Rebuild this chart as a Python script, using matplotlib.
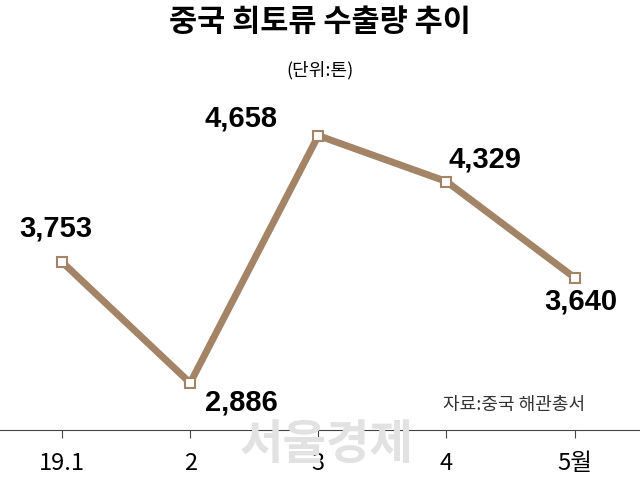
import matplotlib
matplotlib.use("Agg")
import matplotlib.pyplot as plt

categories = ["19.1", "2", "3", "4", "5월"]
values = [3753, 2886, 4658, 4329, 3640]
labels = ["3,753", "2,886", "4,658", "4,329", "3,640"]

plt.rcParams['font.family'] = ['Noto Sans CJK KR', 'DejaVu Sans']
fig = plt.figure(figsize=(6.4, 4.96), dpi=100)
fig.text(0.51, 1 - 445/496, "서울경제", fontsize=34, fontweight='bold', ha='center', va='center', color='#e2e2e2')
ax = fig.add_axes([0, 1 - 430/496, 1, (430 - 100)/496])
ax.patch.set_alpha(0)
x = list(range(len(values)))
col = '#a38466'
ax.plot(x, values, color=col, lw=5, solid_joinstyle='miter', zorder=2)
ax.plot(x, values, 's', ms=7, mfc='white', mec=col, mew=1.5, zorder=3)
ax.set_xlim(-0.484, 4.51)
ax.set_ylim(2549, 4913)
for s in ['top', 'right', 'left']:
    ax.spines[s].set_visible(False)
ax.spines['bottom'].set_color('#444444')
ax.set_yticks([])
ax.set_xticks(x)
ax.set_xticklabels(categories, fontsize=17)
ax.tick_params(axis='x', length=6, color='#444444', pad=10)

offs = [(-0.05, 240), (0.4, -140), (-0.6, 120), (0.3, 160), (0.05, -170)]
for i, (v, l) in enumerate(zip(values, labels)):
    dx, dy = offs[i]
    ax.text(i + dx, v + dy, l, fontsize=21, fontweight='bold', ha='center', va='center', family=['Liberation Sans', 'DejaVu Sans'])

fig.text(0.5, 1 - 22/496, "중국 희토류 수출량 추이", fontsize=22, fontweight='bold', ha='center', va='center')
fig.text(0.5, 1 - 70/496, "(단위:톤)", fontsize=13, ha='center', va='center')
fig.text(0.915, 1 - 405/496, "자료:중국 해관총서", fontsize=13, ha='right', va='center', color='#333333')
fig.savefig("out.png", dpi=100)
